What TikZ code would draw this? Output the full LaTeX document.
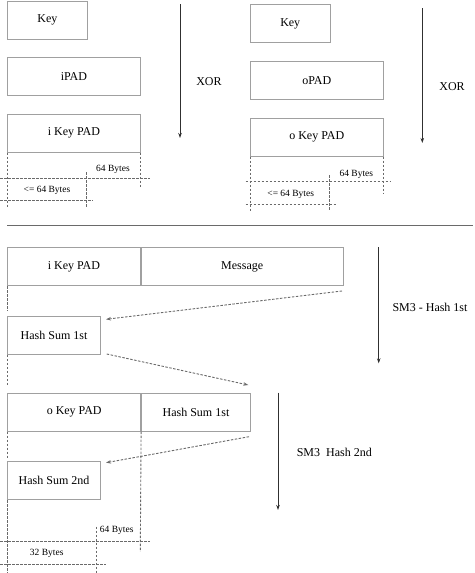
\documentclass[tikz,border=0pt]{standalone}
\usepackage{fontspec}
\setmainfont{Liberation Serif}
\usetikzlibrary{arrows.meta,calc}
\definecolor{boxline}{HTML}{A0A0A0}
\definecolor{dashline}{HTML}{6A6A6A}
\definecolor{arrowline}{HTML}{303030}
\tikzset{
  box/.style={draw=boxline, line width=0.8pt, anchor=north west, minimum height=38pt, inner sep=0pt, font=\fontsize{12}{14}\selectfont},
  meas/.style={draw=dashline, line width=0.9pt, dash pattern=on 2.5pt off 1.5pt},
  flow/.style={draw=dashline, line width=0.9pt, dash pattern=on 2.5pt off 1.5pt, -{Stealth[length=5pt,width=3.5pt]}},
  stepar/.style={draw=arrowline, line width=0.9pt, -{Stealth[length=5pt,width=3.5pt]}},
  lbl/.style={font=\fontsize{12}{14}\selectfont, inner sep=0pt},
  small/.style={font=\fontsize{9.5}{11}\selectfont, inner sep=0pt},
}
\begin{document}
\begin{tikzpicture}[x=1pt,y=-1pt]
\useasboundingbox (0,0) rectangle (474,573);
% ---- top left
\node[box, minimum width=79.4pt] (key1) at (7.3,0.5) {Key};
\node[box, minimum width=132.4pt] (ipad) at (7.3,57) {iPAD};
\node[box, minimum width=132.4pt] (ikp) at (7.3,113.7) {i Key PAD};
\coordinate (x1a) at (180,4);
\coordinate (x1b) at (180,138);
\draw[stepar] (x1a) -- (x1b);
\node[lbl] (xor1) at (209,82) {XOR};
\draw[meas] (ikp.south west) -- ++(0,55);
\draw[meas] (ikp.south east) -- ++(0,36);
\draw[meas] (86.7,172) -- (86.7,207);
\draw[meas] (0,178) -- (150,178);
\draw[meas] (0,200.7) -- (93,200.7);
\node[small] (b64a) at (113,169) {64 Bytes};
\node[small] (ble64a) at (47,190) {<= 64 Bytes};
% ---- top right
\node[box, minimum width=79.7pt] (key2) at (250,4.3) {Key};
\node[box, minimum width=132.7pt] (opad) at (250,61) {oPAD};
\node[box, minimum width=132.7pt] (okp) at (250,117.7) {o Key PAD};
\coordinate (x2a) at (422.3,8);
\coordinate (x2b) at (422.3,143);
\draw[stepar] (x2a) -- (x2b);
\node[lbl] (xor2) at (452,87) {XOR};
\draw[meas] (okp.south west) -- ++(0,54);
\draw[meas] (okp.south east) -- ++(0,37);
\draw[meas] (329.7,175) -- (329.7,210.7);
\draw[meas] (245.7,181.7) -- (390.7,181.7);
\draw[meas] (245.7,204.7) -- (335.7,204.7);
\node[small] (b64b) at (356.3,174) {64 Bytes};
\node[small] (ble64b) at (290.7,194) {<= 64 Bytes};
% ---- separator
\draw[draw=dashline, line width=0.9pt] (7.3,225.7) -- (473,225.7);
% ---- middle
\node[box, minimum width=132.4pt] (ikp2) at (7.3,247.3) {i Key PAD};
\node[box, minimum width=202.6pt] (msg) at (ikp2.north east) {Message};
\node[box, minimum width=92.7pt] (hs1) at (7.3,316) {Hash Sum 1st};
\draw[meas] (ikp2.south west) -- ++(0,25);
\draw[meas] (hs1.south west) -- ++(0,31);
\coordinate (m1) at (342,291);
\coordinate (h1in) at (106,319.3);
\draw[flow] (m1) -- (h1in);
\coordinate (h1out) at (106.7,354);
\coordinate (h1tgt) at (248.3,385);
\draw[flow] (h1out) -- (h1tgt);
\coordinate (s1a) at (378.7,247.3);
\coordinate (s1b) at (378.7,363.3);
\draw[stepar] (s1a) -- (s1b);
\node[lbl] (sm3a) at (430,307.7) {SM3 - Hash 1st};
% ---- bottom
\node[box, minimum width=133pt] (okp2) at (7.3,392.7) {o Key PAD};
\node[box, minimum width=109pt] (hs1b) at (okp2.north east) {Hash Sum 1st};
\node[box, minimum width=92.7pt] (hs2) at (7.3,461.3) {Hash Sum 2nd};
\coordinate (s2a) at (278,392.7);
\coordinate (s2b) at (278,510);
\draw[stepar] (s2a) -- (s2b);
\node[lbl] (sm3b) at (334.3,452.3) {SM3\ \ Hash 2nd};
\coordinate (h2src) at (249,436.7);
\coordinate (h2in) at (106,462.7);
\draw[flow] (h2src) -- (h2in);
\draw[meas] (okp2.south west) -- ++(0,26);
\draw[meas] (hs2.south west) -- (7.3,573);
\draw[meas] (okp2.south east) -- (140.3,551.7);
\draw[meas] (0,541.3) -- (150,541.3);
\draw[meas] (0,564.3) -- (106,564.3);
\draw[meas] (96.7,526.7) -- (96.7,573);
\node[small] (b64c) at (116.7,530.7) {64 Bytes};
\node[small] (b32) at (46.7,553.3) {32 Bytes};
\end{tikzpicture}
\end{document}
